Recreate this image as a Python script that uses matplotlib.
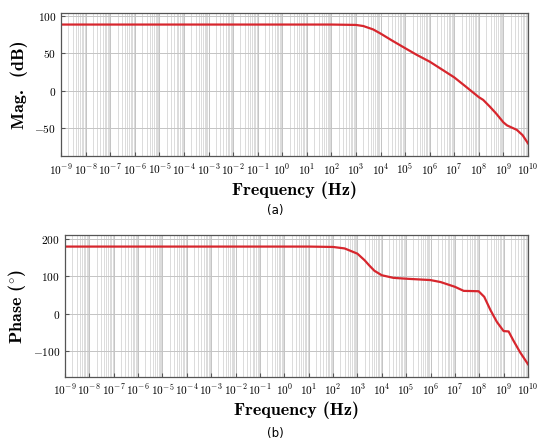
import numpy as np
import matplotlib as mpl
mpl.use("Agg")
import matplotlib.pyplot as plt
from matplotlib.ticker import LogLocator, NullFormatter

mpl.rcParams.update({
    "font.family": "serif",
    "font.serif": ["cmr10", "DejaVu Serif"],
    "mathtext.fontset": "cm",
    "axes.formatter.use_mathtext": True,
    "axes.unicode_minus": True,
})

# Bode data (frequency in Hz)
MAG_F = [1e-9, 1e-6, 1e-3, 1e0, 1e2, 1e3, 2e3, 5e3, 1e4, 3e4, 1e5, 3e5, 1e6,
         3e6, 1e7, 3e7, 1e8, 1.5e8, 2.8e8, 5e8, 1e9, 1.4e9, 3.5e9, 6e9, 1e10]
MAG_DB = [88.5, 88.5, 88.5, 88.5, 88.5, 88, 86.5, 82, 76.5, 67, 57, 48, 39,
          29, 18, 5.5, -8.4, -12, -21, -30, -42, -46, -52, -59, -70]

PH_F = [1e-9, 1e-6, 1e-3, 1e0, 1e1, 1e2, 3e2, 1e3, 2e3, 3e3, 5e3, 1e4, 3e4,
        1e5, 1e6, 2.6e6, 1e7, 2.3e7, 5e7, 9.4e7, 1.6e8, 2.9e8, 5.3e8, 1e9,
        1.6e9, 2.5e9, 4.7e9, 1e10]
PH_DEG = [180, 180, 180, 180, 180, 179, 175, 161, 143, 130, 115, 103, 96,
          93.7, 90, 84.7, 72, 61, 60.5, 60, 45, 9, -22.5, -47,
          -48, -72, -103.6, -136]

RED = "#d7262d"
FRAME = "#555555"


def setup(ax, ylim, yticks, ylabel, label_x):
    ax.set_xscale("log")
    ax.set_xlim(1e-9, 1e10)
    ax.set_ylim(*ylim)
    ax.set_yticks(yticks)
    ax.xaxis.set_major_locator(LogLocator(base=10, numticks=40))
    ax.xaxis.set_minor_locator(LogLocator(base=10, subs=np.arange(2, 10), numticks=400))
    ax.xaxis.set_minor_formatter(NullFormatter())
    ax.grid(which="major", color="#c4c4c4", lw=0.7)
    ax.grid(which="minor", axis="x", color="#d6d6d6", lw=0.6)
    ax.set_axisbelow(True)
    for s in ax.spines.values():
        s.set_color(FRAME)
        s.set_linewidth(0.9)
    ax.tick_params(which="both", direction="in", labelsize=8.2, color=FRAME)
    ax.tick_params(axis="x", which="major", pad=4)
    ax.tick_params(which="minor", length=0)
    ax.tick_params(which="major", length=3)
    ax.set_xlabel("Frequency (Hz)", fontsize=13, family="cmb10", labelpad=3)
    ax.set_ylabel(ylabel, fontsize=13, family="cmb10")
    ax.yaxis.set_label_coords(label_x, 0.5)


fig = plt.figure(figsize=(5.5, 4.46), dpi=100)
ax1 = fig.add_axes([0.111, 0.650, 0.849, 0.321])
ax2 = fig.add_axes([0.118, 0.155, 0.842, 0.318])

ax1.plot(MAG_F, MAG_DB, color=RED, lw=1.6)
setup(ax1, (-87, 104), [-50, 0, 50, 100], "Mag.  (dB)", -0.071)

ax2.plot(PH_F, PH_DEG, color=RED, lw=1.6)
setup(ax2, (-170, 211), [-100, 0, 100, 200], r"Phase ($^{\circ}$)", -0.080)

fig.text(0.5, 1 - 211 / 446, "(a)", ha="center", va="center", fontsize=8.5,
         family="DejaVu Sans")
fig.text(0.5, 1 - 433 / 446, "(b)", ha="center", va="center", fontsize=8.5,
         family="DejaVu Sans")

fig.savefig("out.png", dpi=100)
